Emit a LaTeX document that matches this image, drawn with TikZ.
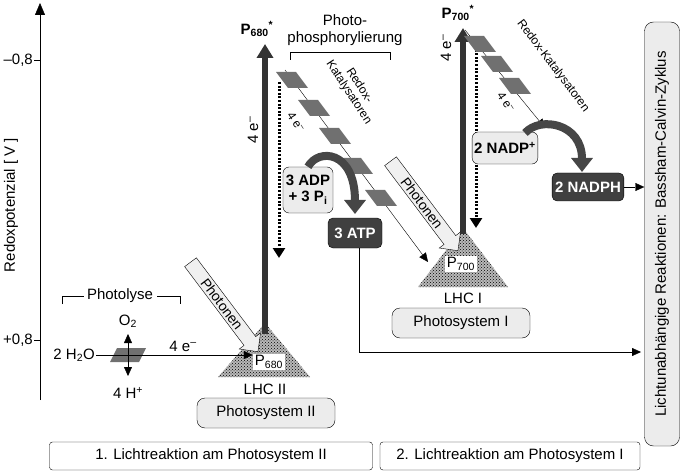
\documentclass[tikz,border=0pt]{standalone}
\usepackage{fontspec}
\setmainfont{Liberation Sans}
\usetikzlibrary{arrows.meta,shapes.arrows,patterns}
\begin{document}
\begin{tikzpicture}[x=1pt,y=-1pt,
  lab/.style={font=\fontsize{15}{17}\selectfont},
  small/.style={font=\fontsize{12}{12.5}\selectfont},
  lbox/.style={draw,rounded corners=8pt,fill=gray!15,font=\fontsize{15}{17}\selectfont},
  cbox/.style={draw,rounded corners=6pt,fill=gray!15,font=\bfseries\fontsize{15}{16}\selectfont,align=center,inner sep=2pt},
  dbox/.style={draw,rounded corners=5pt,fill=black!75,text=white,font=\bfseries\fontsize{15}{17}\selectfont,inner sep=3pt},
  wbox/.style={draw,rounded corners=3pt,fill=white,font=\fontsize{15}{17}\selectfont,minimum height=28pt},
  photon/.style={single arrow,draw,fill=gray!12,single arrow head extend=6pt,minimum height=112pt,minimum width=22pt,inner sep=2pt,font=\fontsize{14}{15}\selectfont,rotate=-53},
  par/.style={fill=gray!60!black!80},
  big/.style={line width=6pt,draw=black!80,-{Triangle[length=14pt,width=16pt]}},
  dots/.style={line width=3pt,dash pattern=on 2pt off 1.6pt,-{Triangle[length=10pt,width=12pt]}},
  thin/.style={-{Triangle[length=9pt,width=8pt]}},
  curv/.style={line width=8pt,draw=gray!55!black,-{Triangle[length=14pt,width=21pt]}}]
\useasboundingbox (0,0) rectangle (685,473);
% axis
\draw[-{Triangle[length=12pt,width=10pt]}] (40,400) -- (40,3);
\draw (34,60) -- (40,60) (34,340) -- (40,340);
\node[lab,anchor=east,inner sep=1pt] (m08) at (34,60) {–0,8};
\node[lab,anchor=east,inner sep=1pt] (p08) at (34,340) {+0,8};
\node[lab,rotate=90] (ax) at (11,205) {Redoxpotenzial [ V ]};
% photolyse
\draw (62,304) -- (62,296) -- (84,296) (157,296) -- (180,296) -- (180,304);
\node[lab] (pl) at (120,296) {Photolyse};
\node[lab,anchor=east,inner sep=1pt] (h2o) at (96,355) {2 H\textsubscript{2}O};
\fill[par] (110,362) -- (117,348) -- (146,348) -- (139,362) -- cycle;
\coordinate (pa) at (128,355);
\draw[thin] (pa) -- (128,334);
\draw[thin] (pa) -- (128,376);
\node[lab] (o2) at (128,321) {O\textsubscript{2}};
\node[lab] (hp) at (128,393) {4 H\textsuperscript{+}};
% LHC II
\fill[gray!55] (265,323) -- (310,377) -- (218,377) -- cycle;
\fill[pattern=crosshatch dots,pattern color=black] (265,323) -- (310,377) -- (218,377) -- cycle;
\draw[big] (265,334) -- (265,44) node[above,font=\bfseries\fontsize{15}{17}\selectfont,xshift=-8pt,yshift=1pt] (p680s) {P\textsubscript{680}\textsuperscript{*}};
\node[fill=white,lab,inner sep=2pt] (p680) at (269,362) {P\textsubscript{680}};
\draw[thin] (h2o.east) -- (p680.west |- h2o.east);
\node[lab] (e1) at (183,346) {4 e\textsuperscript{–}};
\node[lab] (lhc2) at (265,389) {LHC II};
\node[lbox,minimum width=138pt,minimum height=30pt] (ps2) at (266,413) {Photosystem II};
\node[lab,rotate=90] (e2) at (253,130) {4 e\textsuperscript{–}};
\draw[dots] (279,82) -- (279,258);
\node[photon] (ph1) at (222,304) {Photonen};
% photophosphorylierung
\node[lab,align=center] (pp) at (345,30) {Photo-\\phosphorylierung};
\draw (290,60) -- (290,52) -- (390,52) -- (390,60);
% PSII redox chain
\draw[thin] (285,70) -- (428,262);
\foreach \c in {(292,80),(314,108),(335,136),(357,166),(381,198)}
  \fill[par] \c ++(-16,-8) -- ++(20,0) -- ++(12,16) -- ++(-20,0) -- cycle;
\node[small,rotate=-57,align=center] (rk1) at (354,89) {Redox-\\Katalysatoren};
\node[small,rotate=-57] (e3) at (296,122) {4 e\textsuperscript{–}};
\node[cbox,minimum width=50pt,minimum height=46pt] (adp) at (308,190) {3 ADP\\+ 3 P\textsubscript{i}};
\node[dbox,minimum width=54pt,minimum height=30pt] (atp) at (355,233) {3 ATP};
\draw[curv] (adp.north) .. controls (318,148) and (355,150) .. (355,214);
% ATP line
\coordinate (c1) at (359,352);
\draw[thin] (atp.south -| c1) -- (c1) -- (641,352);
% LHC I
\fill[gray!55] (463,228) -- (508,287) -- (418,287) -- cycle;
\fill[pattern=crosshatch dots,pattern color=black] (463,228) -- (508,287) -- (418,287) -- cycle;
\draw[big] (463,234) -- (463,28) node[above,font=\bfseries\fontsize{15}{17}\selectfont,xshift=-5pt,yshift=1pt] (p700s) {P\textsubscript{700}\textsuperscript{*}};
\node[fill=white,lab,inner sep=2pt] (p700) at (461,264) {P\textsubscript{700}};
\node[lab] (lhc1) at (463,298) {LHC I};
\node[lbox,minimum width=138pt,minimum height=30pt] (ps1) at (461,323) {Photosystem I};
\node[lab,rotate=90] (e4) at (446,48) {4 e\textsuperscript{–}};
\draw[dots] (476,46) -- (476,228);
\node[photon] (ph2) at (422,203) {Photonen};
% PSI chain
\draw[thin] (465,30) -- (545,128);
\foreach \c in {(480,44),(497,64),(515,86)}
  \fill[par] \c ++(-16,-8) -- ++(20,0) -- ++(12,16) -- ++(-20,0) -- cycle;
\node[small,rotate=-53] (rk2) at (553,66) {Redox-Katalysatoren};
\node[small,rotate=-57] (e5) at (506,102) {4 e\textsuperscript{–}};
\node[cbox,minimum width=56pt,minimum height=32pt] (nadp) at (505,148) {2 NADP\textsuperscript{+}};
\node[dbox,minimum width=70pt,minimum height=28pt] (nadph) at (588,187) {2 NADPH};
\draw[curv] (525,133) .. controls (540,116) and (582,123) .. (582,172);
% Calvin
\node[lbox,rounded corners=9pt,minimum width=35pt,minimum height=424pt] (calvin) at (662,234) {};
\node[lab,rotate=90] (ct) at (662,234) {Lichtunabhängige Reaktionen: Bassham-Calvin-Zyklus};
\draw[thin] (nadph.east) -- (calvin.west |- nadph.east);
% bottom
\node[wbox,minimum width=323pt] (lr1) at (211,456) {1. Lichtreaktion am Photosystem II};
\node[wbox,minimum width=260pt] (lr2) at (510,456) {2. Lichtreaktion am Photosystem I};
\end{tikzpicture}
\end{document}
